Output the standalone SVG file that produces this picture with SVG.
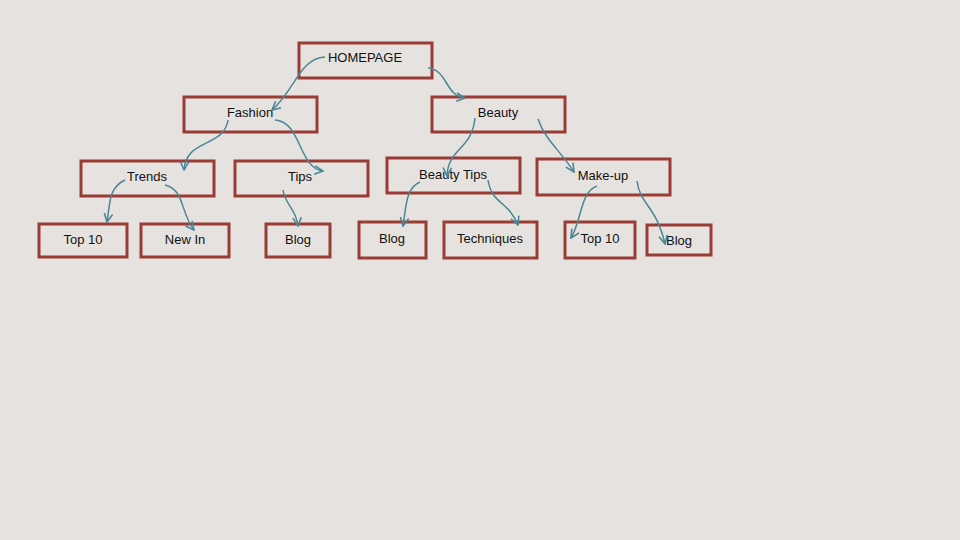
<svg xmlns="http://www.w3.org/2000/svg" width="960" height="540" viewBox="0 0 960 540">
<style>
.b{fill:none;stroke:#9a3b35;stroke-width:3}
text{font-family:"Liberation Sans",Arial,sans-serif;font-size:13px;fill:#111;text-anchor:middle}
.c path{fill:none;stroke:#4b8796;stroke-width:1.5;marker-end:url(#a)}
</style>
<defs><marker id="a" viewBox="0 0 10 10" refX="9" refY="5" markerWidth="7" markerHeight="7" orient="auto"><path d="M1,1 L9,5 L1,9" fill="none" stroke="#4b8796" stroke-width="1.5"/></marker></defs>
<rect width="960" height="540" fill="#e6e2df"/>
<g id="homepage"><rect class="b" x="299" y="43" width="133" height="35"/><text x="365" y="62">HOMEPAGE</text></g>
<g id="fashion"><rect class="b" x="184" y="97" width="133" height="35"/><text x="250" y="117">Fashion</text></g>
<g id="beauty"><rect class="b" x="432" y="97" width="133" height="35"/><text x="498" y="117">Beauty</text></g>
<g id="trends"><rect class="b" x="81" y="161" width="133" height="35"/><text x="147" y="181">Trends</text></g>
<g id="tips"><rect class="b" x="235" y="161" width="133" height="35"/><text x="300" y="181">Tips</text></g>
<g id="beautytips"><rect class="b" x="387" y="158" width="133" height="35"/><text x="453" y="179">Beauty Tips</text></g>
<g id="makeup"><rect class="b" x="537" y="159" width="133" height="36"/><text x="603" y="180">Make-up</text></g>
<g id="top10a"><rect class="b" x="39" y="224" width="88" height="33"/><text x="83" y="244">Top 10</text></g>
<g id="newin"><rect class="b" x="141" y="224" width="88" height="33"/><text x="185" y="244">New In</text></g>
<g id="blog1"><rect class="b" x="266" y="224" width="64" height="33"/><text x="298" y="244">Blog</text></g>
<g id="blog2"><rect class="b" x="359" y="222" width="67" height="36"/><text x="392" y="243">Blog</text></g>
<g id="techniques"><rect class="b" x="444" y="222" width="93" height="36"/><text x="490" y="243">Techniques</text></g>
<g id="top10b"><rect class="b" x="565" y="222" width="70" height="36"/><text x="600" y="243">Top 10</text></g>
<g id="blog3"><rect class="b" x="647" y="225" width="64" height="30"/><text x="679" y="245">Blog</text></g>
<g class="c" id="connectors">
<path d="M325,57 C300,58 295,90 272,110"/>
<path d="M428,68 C448,70 445,96 465,98"/>
<path d="M228,120 C224,148 186,138 184,170"/>
<path d="M275,120 C302,122 298,168 323,171"/>
<path d="M475,118 C472,150 448,148 447,176"/>
<path d="M538,119 C545,140 560,150 574,172"/>
<path d="M125,180 C108,188 110,205 107,222"/>
<path d="M165,185 C185,190 180,212 194,230"/>
<path d="M283,190 C285,205 296,208 298,226"/>
<path d="M420,182 C405,188 406,210 403,226"/>
<path d="M488,180 C492,205 508,200 518,225"/>
<path d="M597,186 C580,192 582,220 571,238"/>
<path d="M637,181 C640,205 656,205 665,244"/>
</g>
</svg>
